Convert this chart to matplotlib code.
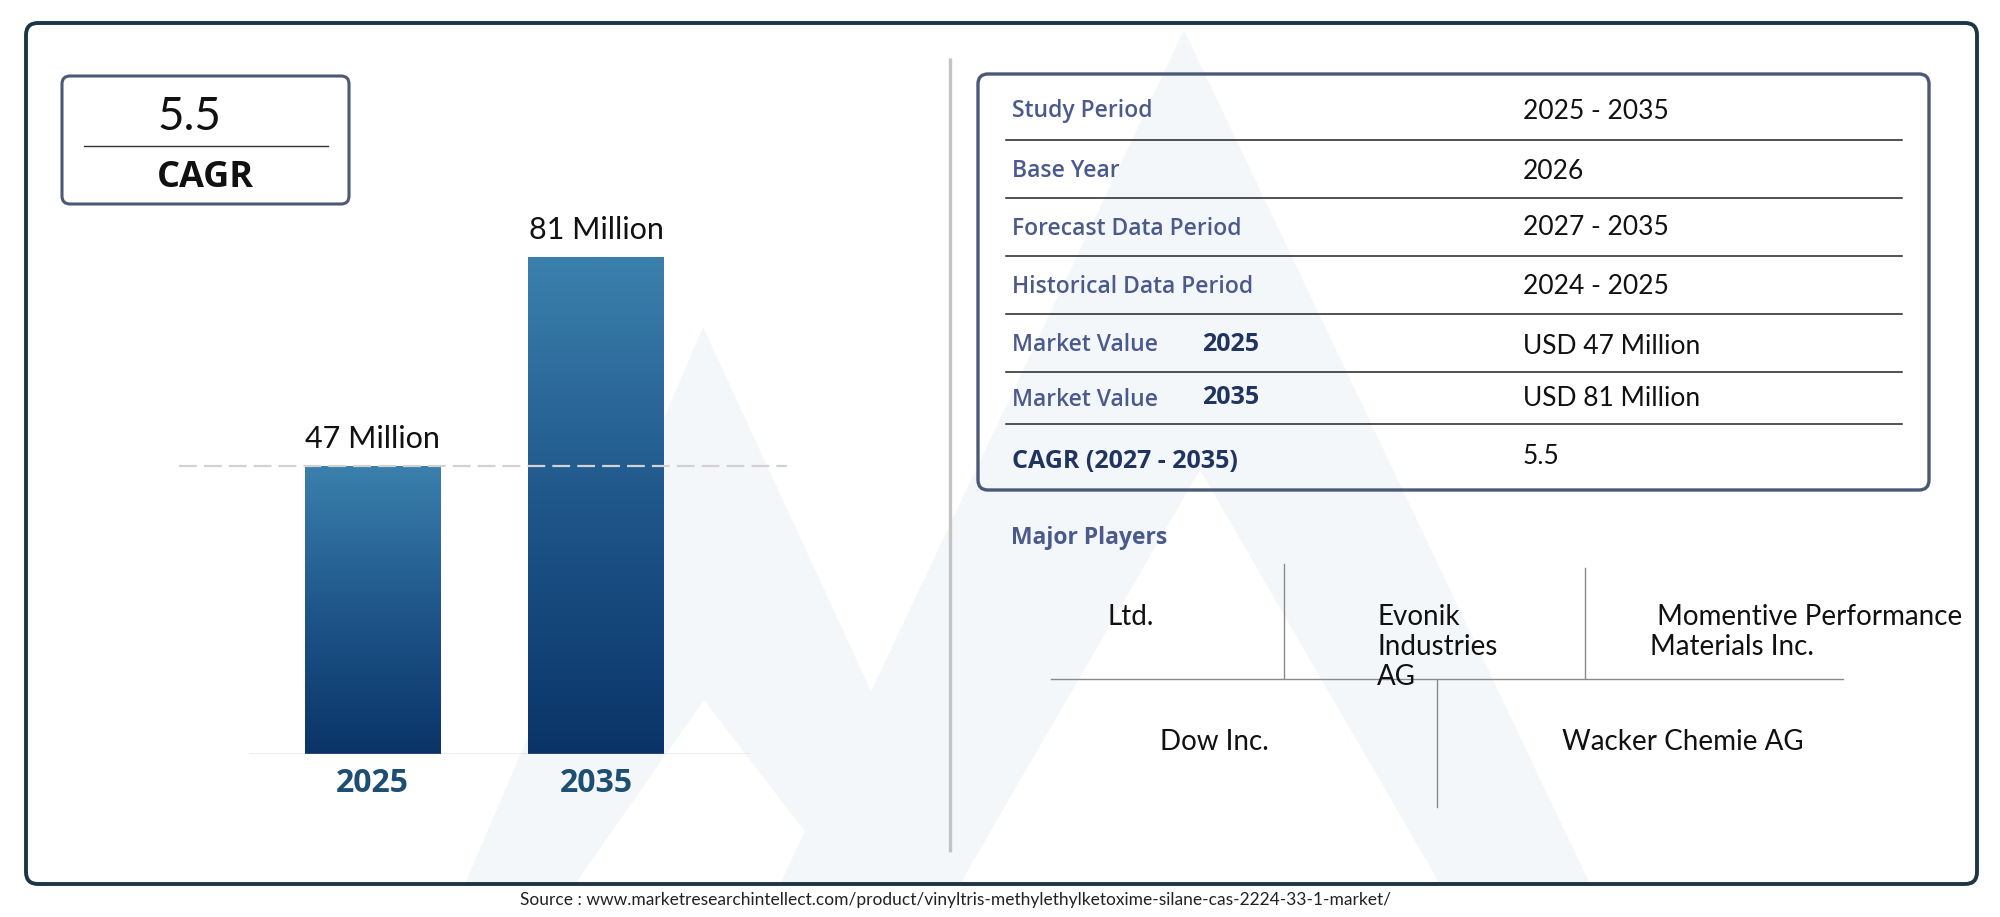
import numpy as np
import matplotlib
matplotlib.use('Agg')
import matplotlib.pyplot as plt
from matplotlib.patches import FancyBboxPatch, Polygon
from matplotlib.colors import LinearSegmentedColormap

# ---------------- data ----------------
years = ['2025', '2035']
values = [47, 81]
value_labels = ['47 Million', '81 Million']
cagr_value = '5.5'
cagr_caption = 'CAGR'
table_labels = ['Study Period', 'Base Year', 'Forecast Data Period', 'Historical Data Period',
                'Market Value', 'Market Value', 'CAGR (2027 - 2035)']
table_label_years = ['', '', '', '', '2025', '2035', '']
table_values = ['2025 - 2035', '2026', '2027 - 2035', '2024 - 2025',
                'USD 47 Million', 'USD 81 Million', '5.5']
players_title = 'Major Players'
players = [['Ltd.'], ['Evonik', 'Industries', 'AG'], [' Momentive Performance', 'Materials Inc.'],
           ['Dow Inc.'], ['Wacker Chemie AG']]
source = 'Source : www.marketresearchintellect.com/product/vinyltris-methylethylketoxime-silane-cas-2224-33-1-market/'

# ---------------- styles ----------------
VAL_FONT = ['Lato', 'DejaVu Sans']
LAB_FONT = ['Open Sans', 'DejaVu Sans']
LABEL_C = '#4a5a8c'
DARK_C = '#1f3460'
FRAME_C = '#1c3646'
BOX_C = '#4b5878'

W, H = 2000, 917
fig = plt.figure(figsize=(W / 100, H / 100), dpi=100)
fig.patch.set_facecolor('white')

bg = fig.add_axes([0, 0, 1, 1], zorder=0)
bg.set_xlim(0, W)
bg.set_ylim(H, 0)
bg.axis('off')

# watermark logo (very faint)
wm = '#f4f7fa'
for pts, c in [
    ([(465, 884), (703, 327), (960, 884)], wm),
    ([(575, 884), (704, 700), (845, 884)], 'white'),
    ([(780, 884), (1184, 30), (1590, 884)], wm),
    ([(960, 884), (1200, 470), (1440, 884)], 'white'),
]:
    bg.add_patch(Polygon(pts, closed=True, fc=c, ec='none', zorder=0))

# outer frame
bg.add_patch(FancyBboxPatch((26, 23), 1951, 861, boxstyle='round,pad=0,rounding_size=12',
                            fc='none', ec=FRAME_C, lw=2.8, zorder=3))

# CAGR box
bg.add_patch(FancyBboxPatch((62, 76), 287, 128, boxstyle='round,pad=0,rounding_size=8',
                            fc='white', ec=BOX_C, lw=2.2, zorder=3))
bg.plot([84, 328], [146, 146], color='#333333', lw=1.0, zorder=4)
bg.text(189, 130, cagr_value, ha='center', va='baseline', fontsize=33,
        family=VAL_FONT, color='#111111', zorder=4)
bg.text(205, 187, cagr_caption, ha='center', va='baseline', fontsize=26, fontweight='bold',
        family=LAB_FONT, color='#111111', zorder=4)

# divider
bg.plot([950, 950], [58, 852], color='#c4c4c4', lw=2.4, zorder=3, solid_capstyle='butt')

# table box
bg.add_patch(FancyBboxPatch((978, 74), 951, 416, boxstyle='round,pad=0,rounding_size=10',
                            fc='none', ec=BOX_C, lw=2.4, zorder=3))
row_lines = [140, 198, 256, 314, 372, 424]
for y in row_lines:
    bg.plot([1006, 1902], [y, y], color='#222222', lw=1.1, zorder=3)
label_base = [117, 177, 235, 293, 351, 406, 468]
value_base = [119, 179, 235, 294, 354, 406, 464]
for i, (lab, ly, val) in enumerate(zip(table_labels, table_label_years, table_values)):
    last = (i == len(table_labels) - 1)
    bg.text(1012, label_base[i], lab, ha='left', va='baseline',
            fontsize=18 if last else 16.5, fontweight='bold' if last else 'semibold',
            family=LAB_FONT, color=DARK_C if last else LABEL_C, zorder=4)
    if ly:
        bg.text(1202, label_base[i] - (0 if i == 4 else 2), ly, ha='left', va='baseline',
                fontsize=18, fontweight='bold', family=LAB_FONT, color=DARK_C, zorder=4)
    bg.text(1523, value_base[i], val, ha='left', va='baseline', fontsize=19,
            family=VAL_FONT, color='#111111', zorder=4)

# major players
bg.text(1011, 544, players_title, ha='left', va='baseline', fontsize=16.5, fontweight='bold',
        family=LAB_FONT, color=LABEL_C, zorder=4)
player_pos = [(1108, 625), (1377, 625), (1650, 625), (1160, 750), (1562, 750)]
for lines, (px, py) in zip(players, player_pos):
    for k, line in enumerate(lines):
        bg.text(px, py + 30 * k, line, ha='left', va='baseline', fontsize=20,
                family=VAL_FONT, color='#111111', zorder=4)
sep_c = '#8a8a8a'
bg.plot([1284, 1284], [564, 678], color=sep_c, lw=1.0, zorder=3)
bg.plot([1585, 1585], [568, 678], color=sep_c, lw=1.0, zorder=3)
bg.plot([1051, 1843], [679, 679], color=sep_c, lw=1.0, zorder=3)
bg.plot([1437, 1437], [680, 807], color=sep_c, lw=1.0, zorder=3)

# source
bg.text(520, 905, source, ha='left', va='baseline', fontsize=12.5,
        family=VAL_FONT, color='#222222', zorder=4)

# ---------------- bar chart ----------------
ax_l, ax_r, ax_top, ax_bot = 249, 750, 200, 754
ax = fig.add_axes([ax_l / W, (H - ax_bot) / H, (ax_r - ax_l) / W, (ax_bot - ax_top) / H], zorder=1)
ax.patch.set_alpha(0)
px_per_unit = (754 - 257) / 81.0
ymax = (ax_bot - ax_top) / px_per_unit
cpx = 223.5
xmin = (ax_l - 372.5) / cpx
xmax = (ax_r - 372.5) / cpx
x = np.arange(len(years))
bars = ax.bar(x, values, width=136 / cpx, color='none', edgecolor='none', zorder=2)

cmap = LinearSegmentedColormap.from_list('barg', ['#0a3468', '#1f568a', '#3b80ad'])
grad = np.linspace(0, 1, 256).reshape(-1, 1)
for b in bars:
    bx, bw, bh = b.get_x(), b.get_width(), b.get_height()
    im = ax.imshow(grad, cmap=cmap, origin='lower', aspect='auto',
                   extent=[bx, bx + bw, 0, bh], zorder=2)
    im.set_clip_path(b)

ax.set_xlim(xmin, xmax)
ax.set_ylim(0, ymax)
ax.axis('off')
ax.axhline(0, color='#a8a8a8', lw=1.0, zorder=3)
dl = ax.axhline(values[0], xmin=(179 - ax_l) / (ax_r - ax_l), xmax=(787 - ax_l) / (ax_r - ax_l),
                color='#d2d2d2', lw=1.6, zorder=4, clip_on=False)
dl.set_dashes((8.0, 3.2))

for xi, v, lab, yr in zip(x, values, value_labels, years):
    ax.annotate(lab, (xi, v), xytext=(0, 13), textcoords='offset points', ha='center',
                va='baseline', fontsize=22, family=VAL_FONT, color='#111111', zorder=5,
                annotation_clip=False)
    ax.annotate(yr, (xi, 0), xytext=(0, -27.5), textcoords='offset points', ha='center',
                va='baseline', fontsize=23, fontweight='bold', family=LAB_FONT,
                color='#1d4f73', zorder=5, annotation_clip=False)

fig.savefig('out.png', dpi=100, facecolor='white')
